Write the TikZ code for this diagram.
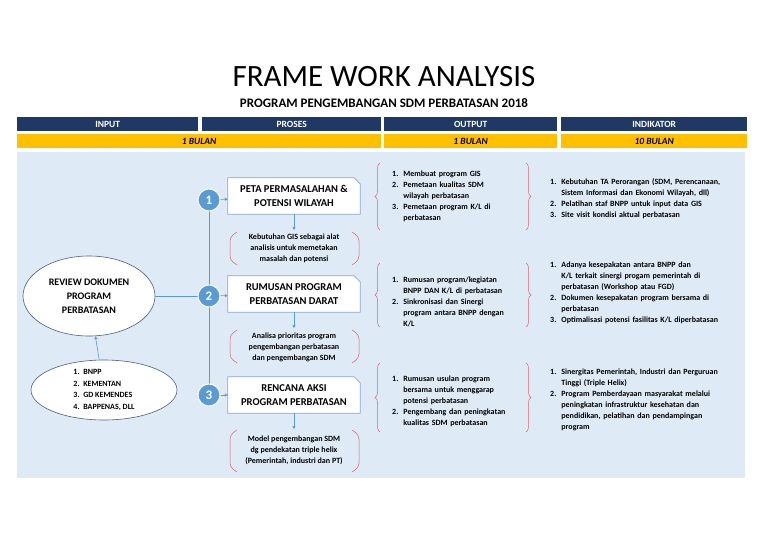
\documentclass[tikz,border=0pt]{standalone}
\usepackage{fontspec}
\setmainfont{Carlito}
\usetikzlibrary{shapes.geometric,arrows.meta,decorations.pathreplacing}
\definecolor{navy}{HTML}{1F3864}
\definecolor{gold}{HTML}{FFC000}
\definecolor{bgblue}{HTML}{DEEAF6}
\definecolor{midblue}{HTML}{5B9BD5}
\definecolor{boxline}{HTML}{8EA9C8}
\definecolor{redb}{HTML}{E06070}
\newcommand{\itm}[2]{\par\hyphenpenalty=10000\exhyphenpenalty=10000\hangindent=1.4em\hangafter=1\noindent\makebox[1.4em][l]{#1.}#2\par}
\begin{document}
\begin{tikzpicture}[x=1pt,y=-1pt,
 hdr/.style={fill=navy,text=white,font=\fontsize{9.5}{10}\selectfont\bfseries,minimum height=14,inner sep=0,anchor=north west},
 yel/.style={fill=gold,text=black,font=\fontsize{9.5}{10}\selectfont\bfseries\itshape,minimum height=14,inner sep=0,anchor=north west},
 num/.style={circle,fill=midblue,draw=white,line width=1pt,minimum size=22,inner sep=0,text=white,font=\fontsize{13}{13}\selectfont\bfseries},
 pbox/.style={minimum width=132,minimum height=36,inner sep=0,align=center,font=\fontsize{10.5}{14}\selectfont\bfseries},
 ptext/.style={align=center,font=\fontsize{8}{11}\selectfont\bfseries,inner sep=0},
 list/.style={align=left,font=\fontsize{8}{11}\selectfont\bfseries,inner sep=0,anchor=north west},
 ell/.style={ellipse,draw=navy!80,fill=white,line width=0.6pt,inner sep=0,align=center},
 cline/.style={draw=midblue,line width=0.8pt},
 carr/.style={draw=midblue,line width=0.6pt,-{Triangle[length=3pt,width=3pt]}},
 brc/.style={draw=redb,line width=0.5pt,decorate,decoration={brace,amplitude=5pt}},
 par/.style={draw=redb,line width=0.5pt,rounded corners=4pt}]
\useasboundingbox (0,0) rectangle (768,543);
\fill[white] (0,0) rectangle (768,543);
\node (title) at (384,77) {\fontsize{31}{31}\selectfont FRAME WORK ANALYSIS};
\node (sub) at (384,103) {\fontsize{13}{13}\selectfont\bfseries PROGRAM PENGEMBANGAN SDM PERBATASAN 2018};
\node[hdr,minimum width=181] (h1) at (17,117) {INPUT};
\node[hdr,minimum width=179] (h2) at (202,117) {PROSES};
\node[hdr,minimum width=173] (h3) at (384,117) {OUTPUT};
\node[hdr,minimum width=186] (h4) at (561,117) {INDIKATOR};
\node[yel,minimum width=364] (y1) at (17,134) {1 BULAN};
\node[yel,minimum width=173] (y2) at (384,134) {1 BULAN};
\node[yel,minimum width=186] (y3) at (561,134) {10 BULAN};
\fill[bgblue] (17,152) rectangle (745,478);
% ellipses
\node[ell,minimum width=132,minimum height=80,font=\fontsize{10}{14}\selectfont\bfseries] (rev) at (89,296) {REVIEW DOKUMEN\\PROGRAM\\PERBATASAN};
\node[ell,minimum width=146,minimum height=60,font=\fontsize{8}{11.5}\selectfont\bfseries,align=left] (inp) at (104,390) {1.\ \ BNPP\\2.\ \ KEMENTAN\\3.\ \ GD KEMENDES\\4.\ \ BAPPENAS, DLL};
\draw[carr] (inp) -- (rev);
% circles
\coordinate (c1p) at (209,200);
\coordinate (c3p) at (209,395);
\draw[cline] (c1p) -- (c3p);
\draw[cline] (rev.east) -- (209,296);
\node[num] (c1) at (209,200) {1};
\node[num] (c2) at (209,296) {2};
\node[num] (c3) at (209,395) {3};
% process boxes
\foreach \n/\y/\t in {b1/196/{PETA PERMASALAHAN \&\\POTENSI WILAYAH},b2/294/{RUMUSAN PROGRAM\\PERBATASAN DARAT},b3/395/{RENCANA AKSI\\PROGRAM PERBATASAN}}{
 \node[pbox] (\n) at (294,\y) {\t};
 \fill[white,draw=boxline,line width=0.8pt] (\n.south west) -- (\n.north west) -- ([xshift=-6pt]\n.north east) -- ([yshift=-6pt]\n.north east) -- (\n.south east) -- cycle;
 \node[pbox] at (\n) {\t};
}
\draw[carr] (c1) -- (b1);
\draw[carr] (c2) -- (b2);
\draw[carr] (c3) -- (b3);
% paren texts
\node[ptext] (p1) at (294,248) {Kebutuhan GIS sebagai alat\\analisis untuk memetakan\\masalah dan potensi};
\node[ptext] (p2) at (294,347) {Analisa prioritas program\\pengembangan perbatasan\\dan pengembangan SDM};
\node[ptext] (p3) at (294,450) {Model pengembangan SDM\\dg pendekatan triple helix\\(Pemerintah, industri dan PT)};
\draw[carr] (b1) -- (p1.north |- 0,230);
\draw[carr] (b2) -- (p2.north |- 0,328);
\draw[carr] (b3) -- (p3.north |- 0,429);
\foreach \a/\b in {232/265,330/363,430/472}{
 \draw[par] (237,\a) -- (230,\a+5) -- (230,\b-5) -- (237,\b);
 \draw[par] (352,\a) -- (359,\a+5) -- (359,\b-5) -- (352,\b);
}
% output braces
\foreach \a/\b in {163/230,263/327,363/432}{
 \draw[brc] (380,\b) -- (380,\a);
 \draw[brc] (526,\a) -- (526,\b);
}
\node[list,text width=112] (o1) at (392,165) {\itm{1}{Membuat program GIS}\itm{2}{Pemetaan kualitas SDM wilayah perbatasan}\itm{3}{Pemetaan program K/L di perbatasan}};
\node[list,text width=122] (o2) at (392,271) {\itm{1}{Rumusan program/kegiatan BNPP DAN K/L di perbatasan}\itm{2}{Sinkronisasi dan Sinergi program antara BNPP dengan K/L}};
\node[list,text width=125] (o3) at (392,370) {\itm{1}{Rumusan usulan program bersama untuk menggarap potensi perbatasan}\itm{2}{Pengembang dan peningkatan kualitas SDM perbatasan}};
\node[list,text width=170] (i1) at (550,173) {\itm{1}{Kebutuhan TA Perorangan (SDM, Perencanaan, Sistem Informasi dan Ekonomi Wilayah, dll)}\itm{2}{Pelatihan staf BNPP untuk input data GIS}\itm{3}{Site visit kondisi aktual perbatasan}};
\node[list,text width=170] (i2) at (550,256) {\itm{1}{Adanya kesepakatan antara BNPP dan K/L terkait sinergi progam pemerintah di perbatasan (Workshop atau FGD)}\itm{2}{Dokumen kesepakatan program bersama di perbatasan}\itm{3}{Optimalisasi potensi fasilitas K/L diperbatasan}};
\node[list,text width=170] (i3) at (550,363) {\itm{1}{Sinergitas Pemerintah, Industri dan Perguruan Tinggi (Triple Helix)}\itm{2}{Program Pemberdayaan masyarakat melalui peningkatan infrastruktur kesehatan dan pendidikan, pelatihan dan pendampingan program}};
\end{tikzpicture}
\end{document}
